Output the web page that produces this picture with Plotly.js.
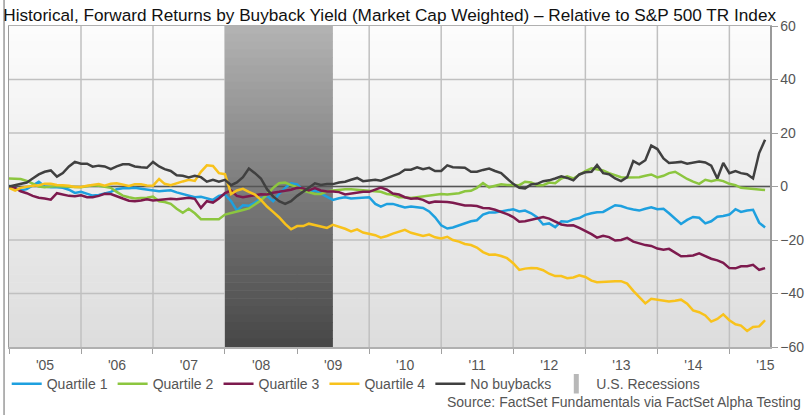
<!DOCTYPE html>
<html>
<head>
<meta charset="utf-8">
<script src="https://cdn.plot.ly/plotly-3.0.1.min.js"></script>
<style>
  html, body { margin: 0; padding: 0; background: #ffffff; }
  #chart { width: 810px; height: 415px; }
</style>
</head>
<body>
<div id="chart"></div>
<script>
// ---- Data (monthly, Jan 2005 onward) ----
const startYear = 2005;
const startMonth = 1;

const quartile1 = [0.3,-0.5,-1.5,-1,0.5,1.8,0,-0.3,-0.3,-0.5,-1.2,-2.4,-2,-2.8,-3.4,-3.2,-2.5,-2,-1,-0.7,
  -0.7,-0.5,-0.8,-1.1,-1.3,-1.8,-1.6,-1.4,-2.2,-2.8,-3.5,-4,-3.8,-4.5,-5,-3.5,-3,-5.5,-9,-7,
  -7.2,-6,-4.5,-3.5,-5.5,-2.8,-0.5,1.2,0.8,-1.5,-1.8,-1.5,-2.6,-3.8,-5,-4.4,-4,-4.5,-4.3,-4,
  -4,-6.5,-7.5,-6.5,-6.5,-7.2,-7.8,-7.5,-7.7,-8,-9.3,-11.5,-14.5,-15.7,-15.3,-14.5,-13.8,-13,-12.6,-10.5,
  -9.7,-9.7,-9.3,-9,-8.5,-9.3,-9,-10,-11.5,-14.2,-13.8,-15.2,-13,-13.2,-12.3,-11.8,-10.6,-10,-9.6,-9.5,
  -8.3,-7,-7.3,-8.1,-8.6,-9,-8.3,-7.8,-8.5,-8.3,-10,-11.9,-14,-12.5,-11.4,-11.7,-13.8,-13,-11.3,-11,
  -10.5,-8.5,-9.5,-9,-8.7,-13.5,-15.3];

const quartile2 = [3,3,2.8,2.1,1,0,-0.3,0,0.2,0,0,-0.2,-0.3,0,0.5,0.3,0,-0.5,-2,-3.4,
  -4,-4.5,-4.3,-4.2,-3.8,-5.5,-5.8,-6.5,-8.3,-9.8,-8.3,-10,-12.2,-12.2,-12.2,-12.2,-10.5,-10,-9.5,-8.8,
  -8.2,-6.5,-5.2,-3,-0.5,1.2,1.5,0.5,-0.2,-1.5,-2,-2.8,-2.8,-1.9,-1.5,-1.2,-1,-1,-1.2,-1.2,
  -1.5,-1.7,-2,-2.8,-3.1,-4,-4,-4.3,-4,-3.6,-3.4,-3.2,-2.8,-3,-2.8,-2.5,-1.8,-1.6,-0.5,1.3,
  -0.3,0.2,0.8,0.6,0.5,0.5,1.8,1.5,0.5,0.5,1.5,1.2,3,3.8,3,4.5,5.8,6.8,6.5,6,
  5,4.2,3.5,3.4,3.4,3.5,4,4.5,3.4,4,5,5.5,4.2,2.8,1.8,1,2.5,2,2.5,2,
  1,0.5,-0.5,-0.7,-0.9,-1.2,-1.3];

const quartile3 = [0,-0.5,-1.8,-2.5,-3.5,-4.2,-4.5,-4.9,-2.5,-3,-3.5,-3.6,-3.3,-4,-4,-3.5,-2.7,-2.8,-3.5,-4.5,
  -5.3,-5.5,-5.2,-4.8,-5.2,-5,-4.6,-4.6,-4.8,-4.4,-4.2,-4.6,-8,-5.5,-6,-4.5,-2.5,-1.5,-3.5,-4,
  -3.6,-3.2,-2.9,-3,-2.3,-2,-1.7,-1.2,-0.5,-0.7,-1.5,-0.6,-1.5,-1.9,-1.9,-2.1,-3,-2.6,-2.2,-2,
  -2,-1.3,-0.4,-1.2,-2.6,-3,-4,-4.6,-4.4,-5,-6.1,-5.6,-5.6,-5.8,-6.1,-6.6,-7.1,-7.1,-7.3,-8,
  -8.1,-8.7,-9.4,-10.3,-11.4,-13.2,-13,-12.5,-11.8,-11.4,-12,-13,-14.2,-14.6,-14.5,-15.5,-16.6,-17.8,-19.1,-18.4,
  -18.9,-20.2,-20,-19.2,-20.6,-21.2,-21.9,-22.2,-23.2,-23.6,-23.3,-24.7,-26.1,-26,-25.8,-25,-26.1,-27,-27.6,-28.5,
  -30.5,-30.6,-29.8,-29.8,-29.3,-31.2,-30.5];

const quartile4 = [-0.5,-1.5,-0.5,0,0.3,0.5,1,1,0.6,0.5,0.3,-0.2,-0.2,0.3,0.5,0.9,0.3,1,1.2,0.8,
  0.2,0.8,0.8,0.4,0.3,2.8,1,0.5,1.3,1.9,2.5,2.1,5.5,7.9,7.7,5,4.6,-2.8,-1.5,-0.9,
  -2,-3,-5,-7.5,-9.5,-11.5,-14,-16,-14.8,-14.8,-13.9,-14.5,-15,-15.5,-14.3,-15,-15.8,-16.8,-16,-17.2,
  -17.8,-18.2,-19.1,-18.5,-17.6,-17,-16.2,-17.3,-17.8,-18.5,-18,-19,-19.4,-18.8,-20,-20.6,-21.5,-21.9,-22.8,-24.5,
  -25.5,-25.4,-26,-26.8,-28.7,-31.2,-30.7,-30.5,-30.6,-31.3,-32.6,-33.5,-33.5,-34.3,-34,-33.2,-33.8,-35.2,-35.8,-35.6,
  -35.6,-35.4,-35.4,-36.3,-39,-41.5,-43.7,-42,-42.3,-42.7,-43,-42.7,-42.3,-43.8,-46.3,-47,-48.2,-50.5,-49.5,-47.8,
  -50,-51.5,-52,-54,-52.5,-52.3,-50];

const noBuybacks = [0,0.5,1,1.5,3,4.5,5.5,6,3.7,5,7.5,9.2,8.5,8.5,7.4,7.8,7.5,6.5,7.5,8.3,
  8.3,7.5,7.2,7,9.2,7.5,6.5,5.8,4.2,4,3.4,4,3.5,1.8,2.5,1.8,2.5,0.5,1.5,3.5,
  6.7,5,3,-1,-3.7,-5.5,-6.5,-5.5,-3.5,-2,-0.5,1.2,0.6,0.9,0.9,1.5,1.8,2.5,3.2,2,
  2.2,2.5,2.2,3.2,4,4.8,6.3,6.3,7.2,6.5,7,5.8,5.8,7.9,7.2,7.1,7,5.5,5.5,6.2,
  6.7,5.8,5,3,1,-0.5,-0.7,0.8,1,2,2.3,3,3.8,3.2,2.3,4.5,5.3,5.5,8,5,
  4.6,3,2,3.5,9.5,8.3,9.8,15.3,14,10.5,8.8,9,9.2,8.5,8.8,9.3,9,7.8,3,8.8,
  5,5.8,5,4.6,3,12.5,17.5];

const seriesNames = ['Quartile 1', 'Quartile 2', 'Quartile 3', 'Quartile 4', 'No buybacks'];
const recessionStart = ['2008-01-01'];
const recessionEnd = ['2009-07-01'];
const recessionLabel = 'U.S. Recessions';
const yTicks = [-60, -40, -20, 0, 20, 40, 60];
const lastYear = 2015;
const titleText = 'Historical, Forward Returns by Buyback Yield (Market Cap Weighted) \u2013 Relative to S&P 500 TR Index';
const sourceText = 'Source: FactSet Fundamentals via FactSet Alpha Testing';

// ---- Monthly date axis ----
function monthDates(n) {
  const out = [];
  for (let i = 0; i < n; i++) {
    const t = (startMonth - 1) + i;
    const y = startYear + Math.floor(t / 12);
    const m = (t % 12) + 1;
    out.push(y + '-' + String(m).padStart(2, '0') + '-01');
  }
  return out;
}
const dates = monthDates(quartile1.length);

// ---- Styles ----
const colors = ['#1ea0df', '#8cc63f', '#7d1a4e', '#f8c21c', '#404040'];
const allSeries = [quartile1, quartile2, quartile3, quartile4, noBuybacks];
const bodyFont = 'Liberation Sans, Arial, sans-serif';
const gridColor = '#c0c0c0';

const traces = allSeries.map((vals, i) => ({
  type: 'scatter', mode: 'lines', name: seriesNames[i],
  x: dates, y: vals,
  line: { color: colors[i], width: 2.5 },
  hoverinfo: 'skip'
}));
traces.push({
  type: 'scatter', mode: 'markers', name: recessionLabel,
  x: [null], y: [null],
  marker: { symbol: 'line-ns', size: 14, color: '#b8b8b8', line: { width: 5, color: '#b8b8b8' } },
  hoverinfo: 'skip'
});

function lerp(a, b, t) { return Math.round(a + (b - a) * t); }
function grey(v) { return 'rgb(' + v + ',' + v + ',' + v + ')'; }

const shapes = [];
const N = 40;
// 1) plot background gradient (white top -> light grey bottom)
for (let i = 0; i < N; i++) {
  const t = i / (N - 1);
  shapes.push({
    type: 'rect', layer: 'below', xref: 'x domain', yref: 'y domain',
    x0: 0, x1: 1, y0: 1 - (i + 1) / N, y1: 1 - i / N + 0.002,
    fillcolor: grey(lerp(252, 221, t)), line: { width: 0 }
  });
}
// 2) grid lines (drawn as shapes so the recession band can cover them)
yTicks.forEach(v => {
  if (v === yTicks[0] || v === yTicks[yTicks.length - 1]) return;
  shapes.push({
    type: 'line', layer: 'below', xref: 'x domain', yref: 'y',
    x0: 0, x1: 1, y0: v, y1: v, line: { color: gridColor, width: 1.5 }
  });
});
for (let yr = startYear + 1; yr <= lastYear; yr++) {
  shapes.push({
    type: 'line', layer: 'below', xref: 'x', yref: 'y domain',
    x0: yr + '-01-01', x1: yr + '-01-01', y0: 0, y1: 1, line: { color: gridColor, width: 1.5 }
  });
}
// 3) recession band gradient
for (let r = 0; r < recessionStart.length; r++) {
  for (let i = 0; i < N; i++) {
    const t = i / (N - 1);
    shapes.push({
      type: 'rect', layer: 'below', xref: 'x', yref: 'y domain',
      x0: recessionStart[r], x1: recessionEnd[r], y0: 1 - (i + 1) / N, y1: 1 - i / N + 0.002,
      fillcolor: grey(lerp(178, 72, t)), line: { width: 0 }
    });
  }
}
// 4) zero line
shapes.push({
  type: 'line', layer: 'below', xref: 'x domain', yref: 'y',
  x0: 0, x1: 1, y0: 0, y1: 0, line: { color: '#555555', width: 1.5 }
});
// outer left border of the image
shapes.push({
  type: 'line', layer: 'above', xref: 'paper', yref: 'paper',
  x0: -0.0065, x1: -0.0065, y0: -0.22, y1: 1.09, line: { color: '#9a9a9a', width: 1.5 }
});

const layout = {
  width: 810, height: 415,
  margin: { l: 7, r: 40, t: 26, b: 68 },
  paper_bgcolor: '#ffffff', plot_bgcolor: '#ffffff',
  showlegend: true,
  title: {
    text: titleText, xref: 'container', yref: 'container',
    x: 0.004, xanchor: 'left', y: 0.965, yanchor: 'middle',
    font: { family: bodyFont, size: 17.2, color: '#111111' }
  },
  xaxis: {
    type: 'date', range: ['2005-01-01', '2015-07-26'],
    tick0: '2005-01-01', dtick: 'M12', ticklabelmode: 'period', tickformat: "'%y",
    showgrid: false,
    ticks: 'outside', ticklen: 5, tickcolor: '#a0a0a0',
    showline: true, mirror: true, linecolor: '#b0b0b0', linewidth: 1.5,
    zeroline: false,
    tickfont: { family: bodyFont, size: 14, color: '#555555' }
  },
  yaxis: {
    side: 'right', range: [-60, 60], tickvals: yTicks,
    showgrid: false,
    ticks: 'outside', ticklen: 6, tickcolor: '#a0a0a0',
    showline: true, mirror: true, linecolor: '#9a9a9a', linewidth: 1.5,
    zeroline: false,
    tickfont: { family: bodyFont, size: 14, color: '#555555' }
  },
  legend: {
    orientation: 'h', x: -0.003, xanchor: 'left', y: -0.066, yanchor: 'top',
    font: { family: bodyFont, size: 14, color: '#555555' },
    bgcolor: 'rgba(0,0,0,0)', itemwidth: 30, traceorder: 'normal'
  },
  annotations: [{
    text: sourceText, xref: 'paper', yref: 'paper',
    x: 1.043, xanchor: 'right', y: -0.17, yanchor: 'middle', showarrow: false,
    font: { family: bodyFont, size: 14, color: '#555555' }
  }],
  shapes: shapes
};

Plotly.newPlot('chart', traces, layout, { staticPlot: true, displayModeBar: false });
</script>
</body>
</html>
